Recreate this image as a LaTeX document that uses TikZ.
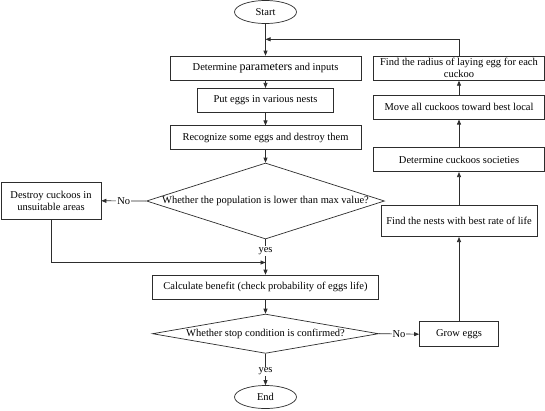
\documentclass[tikz,border=0pt]{standalone}
\usepackage{fontspec}
\setmainfont{Liberation Serif}
\usetikzlibrary{shapes.geometric,arrows.meta}
\definecolor{lc}{RGB}{45,45,45}
\begin{document}
\begin{tikzpicture}[x=1pt,y=-1pt,
  font=\fontsize{10.5}{12}\selectfont,
  line width=0.7pt,
  box/.style={draw=lc, rectangle, inner sep=0pt, align=center, fill=white},
  term/.style={draw=lc, ellipse, inner sep=0pt, minimum width=62pt, minimum height=23pt},
  decision/.style={draw=lc, diamond, inner sep=0pt},
  arr/.style={draw=lc, -{Triangle[length=5pt,width=4pt]}},
  lbl/.style={fill=white, inner sep=1pt},
]
\useasboundingbox[fill=white] (0,0) rectangle (545,410);

% main column
\node[term] (start) at (265.5,12) {Start};
\node[box, minimum width=191pt, minimum height=24pt] (params) at (265.5,68) {Determine {\fontsize{12}{12}\selectfont parameters} and inputs};
\node[box, minimum width=136pt, minimum height=24pt] (put) at (265.5,100.3) {Put eggs in various nests};
\node[box, minimum width=191pt, minimum height=24pt] (recog) at (265.5,137.8) {Recognize some eggs and destroy them};
\node[decision, aspect=3.2, minimum width=238pt, minimum height=76pt] (d1) at (265.5,201) {Whether the population is lower than max value?};
\node[box, minimum width=100pt, minimum height=37pt] (destroy) at (51,200.8) {Destroy cuckoos in\\unsuitable areas};
\coordinate (j1) at (265.5,262.5);
\node[box, minimum width=226.5pt, minimum height=24.3pt] (calc) at (265.5,287.2) {Calculate benefit (check probability of eggs life)};
\node[decision, aspect=5.75, minimum width=226pt, minimum height=39.3pt] (d2) at (265.5,333.7) {Whether stop condition is confirmed?};
\node[term] (end) at (265.5,397) {End};

% right column
\node[box, minimum width=79pt, minimum height=25pt] (grow) at (459,334.2) {Grow eggs};
\node[box, minimum width=156pt, minimum height=31.7pt] (nests) at (459,220.8) {Find the nests with best rate of life};
\node[box, minimum width=171pt, minimum height=24pt] (soc) at (459,159.7) {Determine cuckoos societies};
\node[box, minimum width=171pt, minimum height=24pt] (move) at (459,107.2) {Move all cuckoos toward best local};
\node[box, minimum width=171pt, minimum height=24pt] (radius) at (459,68.3) {Find the radius of laying egg for each\\cuckoo};
\coordinate (j0) at (265.5,39.3);

% connectors
\draw[arr] (start) -- (params);
\draw[arr] (params) -- (put);
\draw[arr] (put) -- (recog);
\draw[arr] (recog) -- (d1);
\draw[arr] (d1.south) -- node[lbl, pos=0.33] {yes} (calc.north);
\draw[arr] (d1.west) -- node[lbl] {No} (destroy.east);
\draw[arr] (destroy.south) |- (j1);
\draw[arr] (calc) -- (d2);
\draw[arr] (d2.south) -- node[lbl, pos=0.57] {yes} (end.north);
\draw[arr] (d2.east) -- node[lbl] {No} (grow.west);
\draw[arr] (grow) -- (nests);
\draw[arr] (nests) -- (soc);
\draw[arr] (soc) -- (move);
\draw[arr] (move) -- (radius);
\draw[arr] (radius.north) |- (j0);
\end{tikzpicture}
\end{document}
